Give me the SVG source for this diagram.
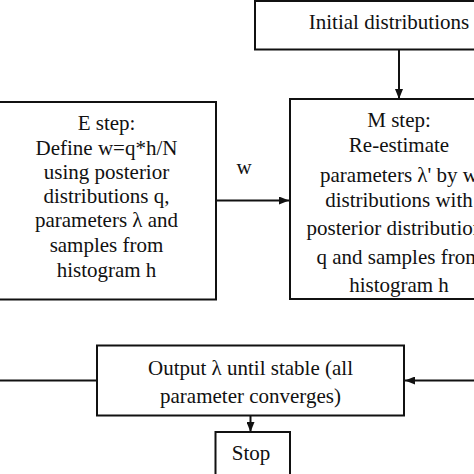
<svg xmlns="http://www.w3.org/2000/svg" width="474" height="474" viewBox="0 0 474 474">
<style>
.box{fill:#fff;stroke:#111;stroke-width:2}
.t{font-family:"Liberation Serif","Times New Roman",serif;font-size:21px;fill:#111;text-anchor:middle}
.c{stroke:#111;stroke-width:2;fill:none}
</style>
<defs>
<marker id="ah" viewBox="0 0 10 8" refX="10" refY="4" markerWidth="10" markerHeight="8" markerUnits="userSpaceOnUse" orient="auto">
<path d="M0,0 L10,4 L0,8 z" fill="#111"/>
</marker>
</defs>
<rect width="474" height="474" fill="#fff"/>
<g id="connectors">
<line class="c" x1="399" y1="50" x2="399" y2="99" marker-end="url(#ah)"/>
<line class="c" x1="216" y1="200.5" x2="289" y2="200.5" marker-end="url(#ah)"/>
<line class="c" x1="-2" y1="380.5" x2="97" y2="380.5"/>
<line class="c" x1="476" y1="380.5" x2="405" y2="380.5" marker-end="url(#ah)"/>
<line class="c" x1="250.5" y1="416" x2="250.5" y2="432" marker-end="url(#ah)"/>
<text class="t" x="244" y="173.5">w</text>
</g>
<g id="initial">
<rect class="box" x="255" y="1" width="270" height="48.5"/>
<text class="t" x="389" y="28.5">Initial distributions</text>
</g>
<g id="estep">
<rect class="box" x="-3" y="102" width="219" height="197.5"/>
<text class="t" x="106.5" y="130">E step:</text>
<text class="t" x="106.5" y="154.5">Define w=q*h/N</text>
<text class="t" x="106.5" y="178.5">using posterior</text>
<text class="t" x="106.5" y="202.5">distributions q,</text>
<text class="t" x="106.5" y="227">parameters λ and</text>
<text class="t" x="106.5" y="251.5">samples from</text>
<text class="t" x="106.5" y="276.5">histogram h</text>
</g>
<g id="mstep">
<rect class="box" x="290" y="99" width="220" height="200"/>
<text class="t" x="399" y="127">M step:</text>
<text class="t" x="399" y="152">Re-estimate</text>
<text class="t" x="399" y="181.5">parameters λ' by w</text>
<text class="t" x="399" y="207">distributions with</text>
<text class="t" x="399" y="235">posterior distributions</text>
<text class="t" x="399" y="263.5">q and samples from</text>
<text class="t" x="399" y="291.5">histogram h</text>
</g>
<g id="output">
<rect class="box" x="97" y="345.5" width="307" height="70"/>
<text class="t" x="250.5" y="374.5">Output λ until stable (all</text>
<text class="t" x="250.5" y="402.5">parameter converges)</text>
</g>
<g id="stop">
<rect class="box" x="215.5" y="432" width="74.5" height="45"/>
<text class="t" x="251" y="459.5">Stop</text>
</g>
</svg>
